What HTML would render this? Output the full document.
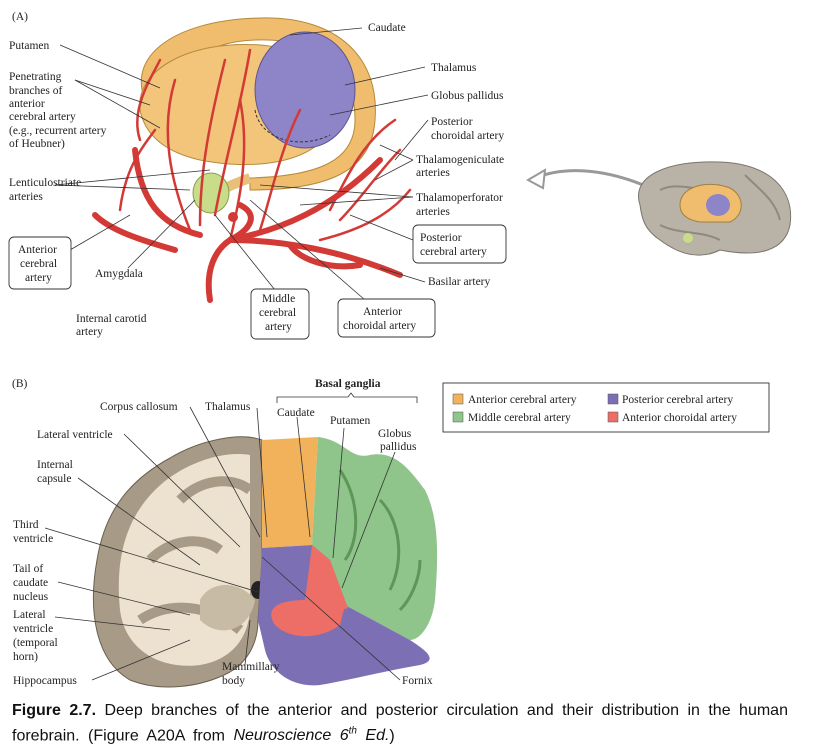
<!DOCTYPE html>
<html><head><meta charset="utf-8"><style>
body{margin:0;background:#fff;width:834px;height:755px;overflow:hidden;position:relative}
svg{position:absolute;left:0;top:0}
text{font-family:"Liberation Serif",serif;font-size:11.5px;fill:#222}
.cap{position:absolute;left:12px;top:700px;font-family:"Liberation Sans",sans-serif;font-size:16px;word-spacing:4px;line-height:21px;color:#111;width:800px}
</style></head><body>
<svg width="834" height="755" viewBox="0 0 834 755">
<text x="12" y="20">(A)</text>
<path d="M150,110 C120,60 170,20 260,18 C340,16 380,60 375,120 C372,170 330,190 250,190 L250,178 C320,176 355,160 355,120 C355,60 310,38 255,40 C200,42 170,70 190,110 Z" fill="#efbd6d" stroke="#b58a3a"/>
<path d="M140,110 C135,70 190,40 260,45 C320,50 345,90 330,130 C310,165 250,170 200,160 C165,152 145,135 140,110Z" fill="#f3c57a" stroke="#b58a3a"/>
<ellipse cx="305" cy="90" rx="50" ry="58" fill="#8e84c8" stroke="#5d548f"/>
<path d="M255,110 C260,140 300,150 330,135" fill="none" stroke="#333" stroke-dasharray="3,2"/>
<path d="M250,178 C230,185 220,190 215,195" fill="none" stroke="#e9c07a" stroke-width="10"/>
<ellipse cx="211" cy="193" rx="18" ry="20" fill="#c8dc8a" stroke="#8aa050"/>
<g fill="none" stroke="#d33a35" stroke-width="6" stroke-linecap="round">
<path d="M210,300 C205,270 215,250 230,240 C250,230 260,215 240,205"/>
<path d="M175,250 C140,240 110,230 95,215"/>
<path d="M230,240 C280,240 340,250 400,275"/>
<path d="M230,240 C280,230 330,210 380,160"/>
<path d="M200,235 C160,225 140,200 135,150"/>
<path d="M290,245 C300,260 330,270 360,265"/>
</g>
<g fill="none" stroke="#d33a35" stroke-width="2.5" stroke-linecap="round">
<path d="M190,230 C170,180 160,130 175,80"/><path d="M200,225 C200,170 210,120 225,60"/>
<path d="M215,215 C225,160 240,110 250,50"/><path d="M140,140 C130,110 150,80 160,60"/>
<path d="M120,210 C125,170 140,150 155,130"/><path d="M330,210 C350,170 365,140 395,120"/>
<path d="M340,220 C360,200 380,170 400,150"/><path d="M260,230 C270,200 280,150 300,110"/>
<path d="M320,240 C360,230 390,215 410,190"/><path d="M230,240 C240,200 250,150 240,100"/>
</g>
<circle cx="233" cy="217" r="5" fill="#d33a35"/>
<g stroke="#333" stroke-width="0.8" fill="none">
<line x1="60" y1="45" x2="160" y2="88"/><line x1="75" y1="80" x2="150" y2="105"/><line x1="75" y1="80" x2="160" y2="128"/>
<line x1="55" y1="185" x2="210" y2="170"/><line x1="55" y1="185" x2="190" y2="190"/>
<line x1="70" y1="250" x2="130" y2="215"/><line x1="128" y1="268" x2="195" y2="200"/>
<line x1="362" y1="28" x2="290" y2="35"/><line x1="425" y1="67" x2="345" y2="85"/>
<line x1="428" y1="95" x2="330" y2="115"/><line x1="428" y1="120" x2="395" y2="160"/>
<line x1="413" y1="160" x2="380" y2="145"/><line x1="413" y1="160" x2="375" y2="180"/>
<line x1="413" y1="197" x2="260" y2="185"/><line x1="413" y1="197" x2="300" y2="205"/>
<line x1="413" y1="240" x2="350" y2="215"/><line x1="425" y1="282" x2="380" y2="268"/>
<line x1="365" y1="300" x2="250" y2="200"/><line x1="275" y1="290" x2="215" y2="215"/>
</g>
<g fill="#fff" stroke="#333" stroke-width="0.9">
<rect x="9" y="237" width="62" height="52" rx="5"/><rect x="251" y="289" width="58" height="50" rx="5"/>
<rect x="338" y="299" width="97" height="38" rx="5"/><rect x="413" y="225" width="93" height="38" rx="5"/>
</g>
<text x="368" y="31">Caudate</text><text x="9" y="49">Putamen</text>
<text x="9" y="80">Penetrating</text><text x="9" y="94">branches of</text><text x="9" y="107">anterior</text><text x="9" y="120">cerebral artery</text><text x="9" y="134">(e.g., recurrent artery</text><text x="9" y="147">of Heubner)</text>
<text x="431" y="71">Thalamus</text><text x="431" y="99">Globus pallidus</text>
<text x="431" y="125">Posterior</text><text x="431" y="139">choroidal artery</text>
<text x="416" y="163">Thalamogeniculate</text><text x="416" y="176">arteries</text>
<text x="416" y="201">Thalamoperforator</text><text x="416" y="215">arteries</text>
<text x="9" y="186">Lenticulostriate</text><text x="9" y="200">arteries</text>
<text x="18" y="253">Anterior</text><text x="20" y="267">cerebral</text><text x="25" y="281">artery</text>
<text x="95" y="277">Amygdala</text><text x="428" y="285">Basilar artery</text>
<text x="420" y="241">Posterior</text><text x="420" y="255">cerebral artery</text>
<text x="76" y="322">Internal carotid</text><text x="76" y="335">artery</text>
<text x="262" y="302">Middle</text><text x="259" y="316">cerebral</text><text x="265" y="330">artery</text>
<text x="363" y="315">Anterior</text><text x="343" y="329">choroidal artery</text>
<path d="M655,190 C600,165 560,168 535,178" fill="none" stroke="#999" stroke-width="3"/>
<path d="M528,180 L545,170 L543,188 Z" fill="#fff" stroke="#999" stroke-width="2"/>
<path d="M640,205 C630,175 670,160 720,162 C770,164 795,190 790,225 C785,250 760,258 720,250 C700,260 680,255 660,240 C645,230 642,220 640,205Z" fill="#b9b2a6" stroke="#7a756c"/>
<path d="M660,190 C680,180 700,195 720,185 M745,175 C760,190 775,200 780,220 M660,225 C680,235 700,230 720,240" stroke="#8f897e" stroke-width="2" fill="none"/>
<path d="M680,205 C680,185 710,180 730,188 C745,196 745,215 730,222 L700,222 C688,220 680,215 680,205Z" fill="#efbd6d" stroke="#a08040"/>
<ellipse cx="718" cy="205" rx="12" ry="11" fill="#8e84c8"/>
<circle cx="688" cy="238" r="5" fill="#c8dc8a"/>
<text x="12" y="387">(B)</text>
<text x="315" y="387" font-weight="bold">Basal ganglia</text>
<path d="M277,403 L277,397 L348,397 L351,393 L354,397 L417,397 L417,403" fill="none" stroke="#333" stroke-width="0.8"/>
<rect x="443" y="383" width="326" height="49" fill="#fff" stroke="#333" stroke-width="0.9"/>
<rect x="453" y="394" width="10" height="10" fill="#f2b25c" stroke="#555" stroke-width="0.5"/><text x="468" y="403">Anterior cerebral artery</text>
<rect x="608" y="394" width="10" height="10" fill="#7d6fb4" stroke="#555" stroke-width="0.5"/><text x="622" y="403">Posterior cerebral artery</text>
<rect x="453" y="412" width="10" height="10" fill="#8fc48a" stroke="#555" stroke-width="0.5"/><text x="468" y="421">Middle cerebral artery</text>
<rect x="608" y="412" width="10" height="10" fill="#ec6e66" stroke="#555" stroke-width="0.5"/><text x="622" y="421">Anterior choroidal artery</text>
<path d="M262,440 C240,432 200,440 170,458 C130,480 105,510 97,560 C88,610 95,660 130,680 C160,692 200,688 230,672 C250,660 258,640 258,620 L262,560 Z" fill="#a79a87" stroke="#6b5f50"/>
<path d="M250,455 C220,450 180,465 155,490 C125,520 115,560 120,610 C125,650 160,670 200,665 C230,660 248,640 250,610 Z" fill="#ede2cf"/>
<path d="M180,500 C200,480 230,475 250,490 M150,560 C170,540 200,535 220,550 M140,620 C170,600 210,605 240,630" stroke="#a79a87" stroke-width="10" fill="none"/>
<path d="M200,600 C210,580 240,580 255,600 C250,630 220,640 200,620Z" fill="#c8bba6"/>
<ellipse cx="258" cy="590" rx="7" ry="9" fill="#222"/>
<path d="M262,440 L318,437 L312,545 L262,548 Z" fill="#f2b25c"/>
<path d="M318,437 C345,440 350,460 370,455 C395,450 410,470 425,490 C440,520 438,560 435,600 C432,625 420,640 410,640 L345,605 L330,600 L312,545 Z" fill="#8fc48a"/>
<path d="M262,548 L312,545 L330,560 L305,600 L330,620 L345,605 L410,640 C425,650 440,660 420,665 C380,672 350,680 320,685 C290,688 270,670 265,650 L258,620 Z" fill="#7d6fb4"/>
<path d="M312,545 L330,560 L345,605 L340,625 C320,640 290,640 275,625 C265,610 275,600 305,600 Z" fill="#ec6e66"/>
<path d="M330,560 L348,608 L335,612 L320,570 Z" fill="#ec6e66"/>
<path d="M340,470 C360,500 360,540 345,560 M380,500 C400,520 405,560 390,590 M400,610 C410,600 420,580 420,560" stroke="#5e9558" stroke-width="3" fill="none"/>
<g stroke="#333" stroke-width="0.8" fill="none">
<line x1="190" y1="407" x2="260" y2="537"/><line x1="124" y1="434" x2="240" y2="547"/>
<line x1="257" y1="408" x2="267" y2="537"/><line x1="297" y1="417" x2="310" y2="537"/>
<line x1="344" y1="428" x2="333" y2="558"/><line x1="395" y1="452" x2="342" y2="588"/>
<line x1="78" y1="478" x2="200" y2="565"/><line x1="45" y1="528" x2="258" y2="592"/>
<line x1="58" y1="582" x2="190" y2="615"/><line x1="55" y1="617" x2="170" y2="630"/>
<line x1="92" y1="680" x2="190" y2="640"/><line x1="245" y1="665" x2="250" y2="620"/>
<line x1="400" y1="680" x2="262" y2="557"/>
</g>
<text x="100" y="410">Corpus callosum</text><text x="205" y="410">Thalamus</text>
<text x="277" y="416">Caudate</text><text x="330" y="424">Putamen</text>
<text x="378" y="437">Globus</text><text x="380" y="450">pallidus</text>
<text x="37" y="438">Lateral ventricle</text>
<text x="37" y="468">Internal</text><text x="37" y="482">capsule</text>
<text x="13" y="528">Third</text><text x="13" y="542">ventricle</text>
<text x="13" y="572">Tail of</text><text x="13" y="586">caudate</text><text x="13" y="600">nucleus</text>
<text x="13" y="618">Lateral</text><text x="13" y="632">ventricle</text><text x="13" y="646">(temporal</text><text x="13" y="660">horn)</text>
<text x="13" y="684">Hippocampus</text>
<text x="222" y="670">Mammillary</text><text x="222" y="684">body</text>
<text x="402" y="684">Fornix</text>
</svg>
<div class="cap"><b>Figure 2.7.</b> Deep branches of the anterior and posterior circulation and their distribution in the human forebrain. (Figure A20A from <i>Neuroscience 6<sup style="font-size:10px">th</sup> Ed.</i>)</div>
</body></html>
